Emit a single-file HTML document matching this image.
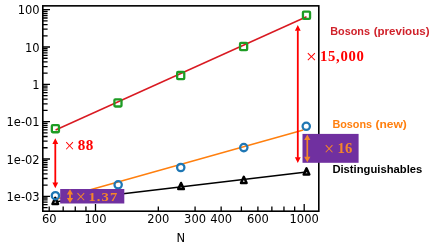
<!DOCTYPE html>
<html lang="en"><head><meta charset="utf-8"><title>Scaling plot</title>
<style>html,body{margin:0;padding:0;background:#fff;overflow:hidden}svg{display:block}.tk{font-family:"DejaVu Sans","Liberation Sans",sans-serif;font-size:11.5px;fill:#000}.lb{font-family:"Liberation Sans","DejaVu Sans",sans-serif;font-weight:bold}.mx{font-family:"Liberation Serif","DejaVu Serif",serif;font-weight:bold}</style></head><body>
<svg width="448" height="252" viewBox="0 0 448 252">
<rect width="448" height="252" fill="#fff"/>
<line x1="55.6" y1="130.0" x2="306.5" y2="16.8" stroke="#d91a22" stroke-width="1.5"/>
<line x1="55.6" y1="199.45" x2="303.3" y2="129.95" stroke="#ff7f0e" stroke-width="1.5"/>
<line x1="55.6" y1="201.7" x2="306.5" y2="171.9" stroke="#000" stroke-width="1.5"/>
<rect x="51.85" y="125.15" width="7.1" height="7.1" rx="0.9" fill="none" stroke="#1e9c24" stroke-width="2.3" stroke-linejoin="round"/>
<rect x="114.40" y="99.40" width="7.1" height="7.1" rx="0.9" fill="none" stroke="#1e9c24" stroke-width="2.3" stroke-linejoin="round"/>
<rect x="177.15" y="72.00" width="7.1" height="7.1" rx="0.9" fill="none" stroke="#1e9c24" stroke-width="2.3" stroke-linejoin="round"/>
<rect x="240.05" y="42.95" width="7.1" height="7.1" rx="0.9" fill="none" stroke="#1e9c24" stroke-width="2.3" stroke-linejoin="round"/>
<rect x="302.95" y="11.70" width="7.1" height="7.1" rx="0.9" fill="none" stroke="#1e9c24" stroke-width="2.3" stroke-linejoin="round"/>
<path d="M55.30 197.80 L58.15 203.95 L52.45 203.95 Z" fill="none" stroke="#000" stroke-width="2.4" stroke-linejoin="round"/>
<path d="M118.20 190.70 L121.05 196.85 L115.35 196.85 Z" fill="none" stroke="#000" stroke-width="2.4" stroke-linejoin="round"/>
<path d="M181.05 182.95 L183.90 189.10 L178.20 189.10 Z" fill="none" stroke="#000" stroke-width="2.4" stroke-linejoin="round"/>
<path d="M243.80 176.80 L246.65 182.95 L240.95 182.95 Z" fill="none" stroke="#000" stroke-width="2.4" stroke-linejoin="round"/>
<path d="M306.50 168.30 L309.35 174.45 L303.65 174.45 Z" fill="none" stroke="#000" stroke-width="2.4" stroke-linejoin="round"/>
<circle cx="55.4" cy="195.7" r="3.65" fill="none" stroke="#1f77b4" stroke-width="2.3"/>
<circle cx="118.15" cy="184.85" r="3.65" fill="none" stroke="#1f77b4" stroke-width="2.3"/>
<circle cx="180.75" cy="167.5" r="3.65" fill="none" stroke="#1f77b4" stroke-width="2.3"/>
<circle cx="243.8" cy="147.6" r="3.65" fill="none" stroke="#1f77b4" stroke-width="2.3"/>
<circle cx="306.25" cy="126.3" r="3.65" fill="none" stroke="#1f77b4" stroke-width="2.3"/>
<path d="M42.8 196.30h7.2 M42.8 158.98h7.2 M42.8 121.66h7.2 M42.8 84.34h7.2 M42.8 47.02h7.2 M42.8 9.70h7.2 M42.8 207.53h4.8 M42.8 204.58h4.8 M42.8 202.08h4.8 M42.8 199.92h4.8 M42.8 198.01h4.8 M42.8 185.07h4.8 M42.8 178.49h4.8 M42.8 173.83h4.8 M42.8 170.21h4.8 M42.8 167.26h4.8 M42.8 164.76h4.8 M42.8 162.60h4.8 M42.8 160.69h4.8 M42.8 147.75h4.8 M42.8 141.17h4.8 M42.8 136.51h4.8 M42.8 132.89h4.8 M42.8 129.94h4.8 M42.8 127.44h4.8 M42.8 125.28h4.8 M42.8 123.37h4.8 M42.8 110.43h4.8 M42.8 103.85h4.8 M42.8 99.19h4.8 M42.8 95.57h4.8 M42.8 92.62h4.8 M42.8 90.12h4.8 M42.8 87.96h4.8 M42.8 86.05h4.8 M42.8 73.11h4.8 M42.8 66.53h4.8 M42.8 61.87h4.8 M42.8 58.25h4.8 M42.8 55.30h4.8 M42.8 52.80h4.8 M42.8 50.64h4.8 M42.8 48.73h4.8 M42.8 35.79h4.8 M42.8 29.21h4.8 M42.8 24.55h4.8 M42.8 20.93h4.8 M42.8 17.98h4.8 M42.8 15.48h4.8 M42.8 13.32h4.8 M42.8 11.41h4.8 M95.50 211.2v-7.2 M304.20 211.2v-7.2 M49.20 211.2v-4.8 M63.17 211.2v-4.8 M75.27 211.2v-4.8 M85.95 211.2v-4.8 M158.32 211.2v-4.8 M195.08 211.2v-4.8 M221.15 211.2v-4.8 M241.38 211.2v-4.8 M257.90 211.2v-4.8 M271.87 211.2v-4.8 M283.97 211.2v-4.8 M294.65 211.2v-4.8" stroke="#000" stroke-width="1.3" fill="none"/>
<rect x="42.8" y="5.85" width="276.0" height="205.35" fill="none" stroke="#000" stroke-width="1.6"/>
<text class="tk" x="39.7" y="14.35" text-anchor="end">100</text>
<text class="tk" x="39.7" y="51.67" text-anchor="end">10</text>
<text class="tk" x="39.7" y="88.99" text-anchor="end">1</text>
<text class="tk" x="39.7" y="126.31" text-anchor="end">1e-01</text>
<text class="tk" x="39.7" y="163.63" text-anchor="end">1e-02</text>
<text class="tk" x="39.7" y="200.95" text-anchor="end">1e-03</text>
<text class="tk" x="49.20" y="223" text-anchor="middle">60</text>
<text class="tk" x="95.50" y="223" text-anchor="middle">100</text>
<text class="tk" x="158.32" y="223" text-anchor="middle">200</text>
<text class="tk" x="195.08" y="223" text-anchor="middle">300</text>
<text class="tk" x="221.15" y="223" text-anchor="middle">400</text>
<text class="tk" x="257.90" y="223" text-anchor="middle">600</text>
<text class="tk" x="304.20" y="223" text-anchor="middle">1000</text>
<text class="tk" x="180.8" y="242" text-anchor="middle">N</text>
<rect x="60.2" y="189" width="64.1" height="14.5" fill="#7030a0"/>
<rect x="302.5" y="133.9" width="56.1" height="28.9" fill="#7030a0"/>
<line x1="55.3" y1="143.4" x2="55.3" y2="183.1" stroke="#ff0000" stroke-width="1.8"/>
<path d="M55.3 138.3 l2.9 5.6 h-5.8 Z M55.3 188.2 l2.9 -5.6 h-5.8 Z" fill="#ff0000"/>
<line x1="297.8" y1="30.3" x2="297.8" y2="157.79999999999998" stroke="#ff0000" stroke-width="1.8"/>
<path d="M297.8 25 l2.9 5.8 h-5.8 Z M297.8 163.1 l2.9 -5.8 h-5.8 Z" fill="#ff0000"/>
<line x1="70" y1="194.0" x2="70" y2="198.4" stroke="#f4862a" stroke-width="1.9"/>
<path d="M70 189.3 l3.1 5.2 h-6.2 Z M70 203.1 l3.1 -5.2 h-6.2 Z" fill="#f4862a"/>
<line x1="307.3" y1="139.5" x2="307.3" y2="157.20000000000002" stroke="#f4862a" stroke-width="1.7"/>
<path d="M307.3 134.4 l3.1 5.6 h-6.2 Z M307.3 162.3 l3.1 -5.6 h-6.2 Z" fill="#f4862a"/>
<text class="mx" x="69.65" y="151.57" font-size="18" font-weight="normal" style="font-weight:normal" text-anchor="middle" fill="#ff0000">×</text>
<text class="mx" transform="translate(77.8 149.7) scale(1.08 1)" font-size="14" fill="#ff0000" letter-spacing="0.361">88</text>
<text class="mx" x="311.45" y="63.16" font-size="19" font-weight="normal" style="font-weight:normal" text-anchor="middle" fill="#ff0000">×</text>
<text class="mx" transform="translate(319.9 60.5) scale(1.08 1)" font-size="13.6" fill="#ff0000" letter-spacing="0.680">15,000</text>
<text class="mx" x="80.75" y="202.62" font-size="18" font-weight="normal" style="font-weight:normal" text-anchor="middle" fill="#f4862a">×</text>
<text class="mx" transform="translate(88.5 200.8) scale(1.08 1)" font-size="13.5" fill="#f4862a" letter-spacing="0.992">1.37</text>
<text class="mx" x="329" y="154.97" font-size="18" font-weight="normal" style="font-weight:normal" text-anchor="middle" fill="#f4862a">×</text>
<text class="mx" transform="translate(337.5 152.9) scale(1.08 1)" font-size="13.6" fill="#f4862a" letter-spacing="0.144">16</text>
<text class="lb" x="330.3" y="34.6" font-size="11.8" fill="#d0222b" textLength="39.7" lengthAdjust="spacingAndGlyphs">Bosons</text>
<text class="lb" x="373.7" y="34.6" font-size="11.8" fill="#d0222b" textLength="55.8" lengthAdjust="spacingAndGlyphs">(previous)</text>
<text class="lb" x="332.4" y="128.1" font-size="11.8" fill="#ff7f0e" textLength="39.7" lengthAdjust="spacingAndGlyphs">Bosons</text>
<text class="lb" x="375.4" y="128.1" font-size="11.8" fill="#ff7f0e" textLength="31.4" lengthAdjust="spacingAndGlyphs">(new)</text>
<text class="lb" x="332.4" y="172.9" font-size="11.8" fill="#000" textLength="89.9" lengthAdjust="spacingAndGlyphs">Distinguishables</text>
</svg></body></html>
